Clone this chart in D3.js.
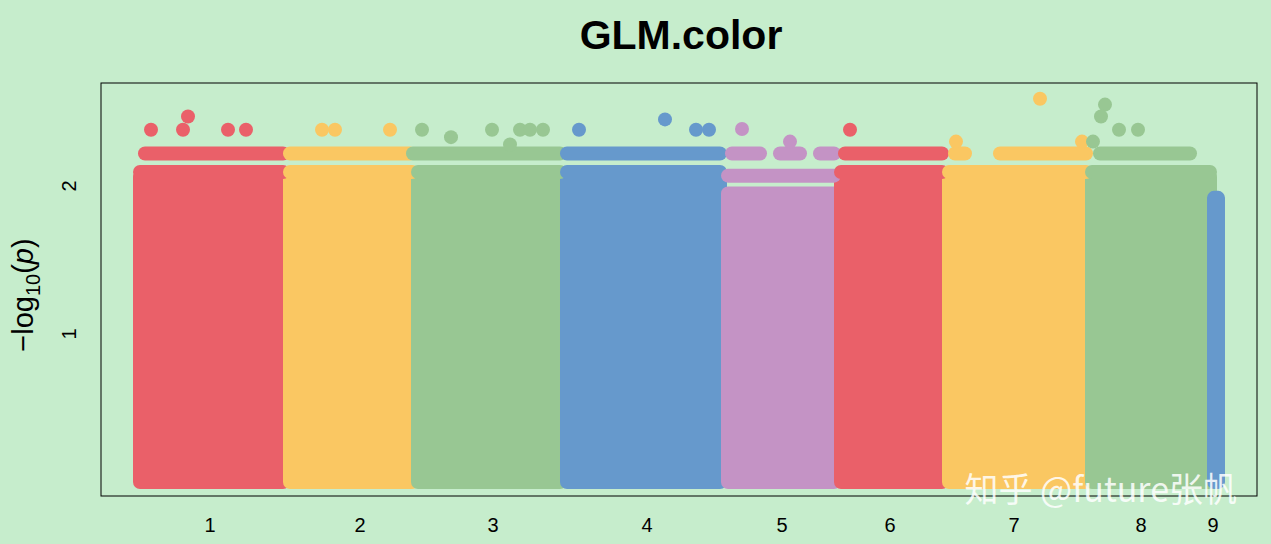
<!DOCTYPE html>
<html><head><meta charset="utf-8">
<script src="https://cdn.jsdelivr.net/npm/d3@7"></script>
<style>body{margin:0;background:#c6edcc;}</style>
</head><body>
<svg id="chart" width="1271" height="544"></svg>
<script>
// chromosome extents (genome units) and dense-body top
const chrNames = ["1","2","3","4","5","6","7","8","9"];
const chrStart = [39, 189, 317, 466, 627, 740, 848, 991, 1113];
const chrEnd   = [182, 311, 459, 619, 733, 841, 985, 1109, 1117];
const chrTick  = [109, 259, 392, 546, 681, 789, 913, 1040, 1112];
const bodyTop  = [2.06, 2.06, 2.06, 2.06, 1.95, 2.06, 2.06, 2.06, 1.92];
const palette  = ["#ea6069", "#fac762", "#98c793", "#6699cc", "#c493c5"];

// rows of tightly packed points: [chr index, from, to, -log10 p]
const rows = [
  [0, 44, 182, 2.22], [0, 39, 182, 2.095],
  [1, 189, 309, 2.22], [1, 189, 311, 2.095],
  [2, 312, 459, 2.22], [2, 317, 459, 2.095],
  [3, 466, 619, 2.22], [3, 466, 619, 2.095],
  [4, 631, 659, 2.22], [4, 679, 699, 2.22], [4, 719, 733, 2.22], [4, 627, 733, 2.07],
  [5, 744, 841, 2.22], [5, 740, 841, 2.095],
  [6, 854, 864, 2.22], [6, 899, 985, 2.22], [6, 848, 985, 2.095],
  [7, 999, 1089, 2.22], [7, 991, 1109, 2.095]
];
// isolated top hits: [chr index, position, -log10 p]
const hits = [
  [0, 50, 2.38], [0, 82, 2.38], [0, 87, 2.47], [0, 127, 2.38], [0, 145, 2.38],
  [1, 221, 2.38], [1, 234, 2.38], [1, 289, 2.38],
  [2, 321, 2.38], [2, 350, 2.33], [2, 391, 2.38], [2, 419, 2.38], [2, 429, 2.38], [2, 442, 2.38], [2, 409, 2.28],
  [3, 478, 2.38], [3, 564, 2.45], [3, 595, 2.38], [3, 608, 2.38],
  [4, 641, 2.385], [4, 689, 2.30],
  [5, 749, 2.38],
  [6, 939, 2.59], [6, 855, 2.30], [6, 981, 2.30],
  [7, 1004, 2.55], [7, 1000, 2.47], [7, 1018, 2.38], [7, 1037, 2.38], [7, 992, 2.30]
];

const svg = d3.select("#chart");
const L = 101, R = 1257, T = 83, B = 496, rad = 7;
const x = d3.scaleLinear().domain([0, 1156]).range([L, R]);
const y = d3.scaleLinear().domain([0, 1]).range([482, 334]);
const col = i => palette[i % palette.length];

const g = svg.append("g");
chrNames.forEach((c, i) => {
  g.append("rect")
    .attr("x", x(chrStart[i]) - rad).attr("width", x(chrEnd[i]) - x(chrStart[i]) + 2 * rad)
    .attr("y", y(bodyTop[i]) - rad).attr("height", y(0) - y(bodyTop[i]) + 2 * rad)
    .attr("rx", rad).attr("fill", col(i));
});
g.selectAll("line.row").data(rows).join("line")
  .attr("x1", d => x(d[1])).attr("x2", d => x(d[2]))
  .attr("y1", d => y(d[3])).attr("y2", d => y(d[3]))
  .attr("stroke", d => col(d[0])).attr("stroke-width", 2 * rad).attr("stroke-linecap", "round");
g.selectAll("circle.hit").data(hits).join("circle")
  .attr("cx", d => x(d[1])).attr("cy", d => y(d[2])).attr("r", rad)
  .attr("fill", d => col(d[0]));

svg.append("rect").attr("x", L).attr("y", T).attr("width", R - L).attr("height", B - T)
  .attr("fill", "none").attr("stroke", "#000").attr("stroke-width", 1);

// axes
svg.selectAll("text.yl").data([1, 2]).join("text")
  .attr("transform", d => `translate(76,${y(d)}) rotate(-90)`)
  .attr("text-anchor", "middle").attr("font-size", 20).attr("font-family", "Liberation Sans, Arial")
  .text(d => d);

svg.selectAll("text.xl").data(chrNames).join("text")
  .attr("x", (d, i) => x(chrTick[i])).attr("y", 532).attr("text-anchor", "middle")
  .attr("font-size", 20).attr("font-family", "Liberation Sans, Arial").text(d => d);

const yl = svg.append("text").attr("transform", "translate(33,295) rotate(-90)")
  .attr("text-anchor", "middle").attr("font-size", 29).attr("font-family", "Liberation Sans, Arial");
yl.append("tspan").text("\u2212log");
yl.append("tspan").attr("font-size", 20).attr("dy", 7).text("10");
yl.append("tspan").attr("dy", -7).text("(");
yl.append("tspan").attr("font-style", "italic").text("p");
yl.append("tspan").text(")");

svg.append("text").attr("x", 681).attr("y", 49).attr("text-anchor", "middle")
  .attr("font-size", 41).attr("font-weight", "bold").attr("font-family", "Liberation Sans, Arial")
  .text("GLM.color");

svg.append("text").attr("x", 1237).attr("y", 502).attr("text-anchor", "end")
  .attr("font-size", 34).attr("fill", "#fff").attr("fill-opacity", 0.85)
  .attr("font-family", "Noto Sans CJK SC").text("知乎 @future张帆");
</script>
</body></html>
